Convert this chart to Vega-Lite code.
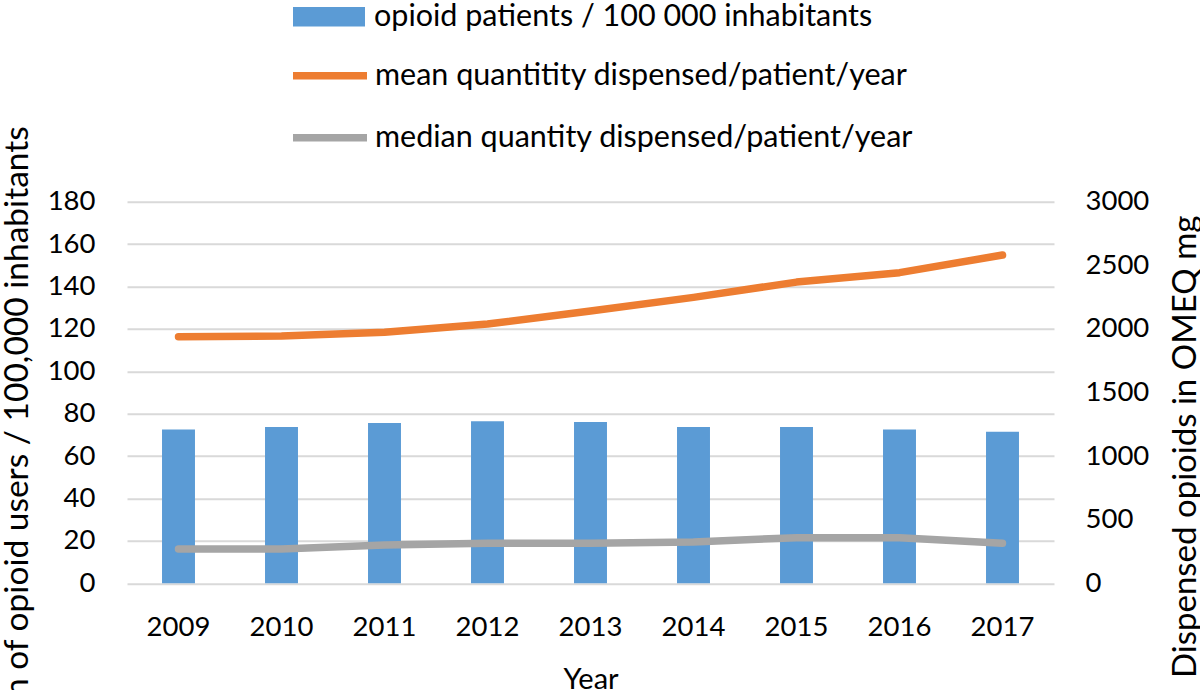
{
  "$schema": "https://vega.github.io/schema/vega-lite/v6.json",
  "width": 927,
  "height": 381.6,
  "autosize": {"type": "none"},
  "padding": {"left": 127, "top": 201.7, "right": 146, "bottom": 106.7},
  "background": "white",
  "config": {
    "view": {"stroke": null},
    "font": "Lato",
    "axis": {
      "labelFont": "Lato",
      "titleFont": "Lato",
      "labelColor": "#000000",
      "titleColor": "#000000",
      "titleFontWeight": "normal",
      "domain": false,
      "ticks": false,
      "tickSize": 0
    },
    "legend": {
      "labelFont": "Lato",
      "labelColor": "#000000",
      "labelFontSize": 30.5,
      "labelLimit": 0,
      "padding": 0
    }
  },
  "datasets": {
    "bars": [
      {"year": "2009", "patients": 72.6},
      {"year": "2010", "patients": 73.7},
      {"year": "2011", "patients": 75.6},
      {"year": "2012", "patients": 76.4},
      {"year": "2013", "patients": 76.1},
      {"year": "2014", "patients": 73.7},
      {"year": "2015", "patients": 73.7},
      {"year": "2016", "patients": 72.6},
      {"year": "2017", "patients": 71.5}
    ],
    "lines": [
      {"year": "2009", "series": "mean quantitity dispensed/patient/year", "qty": 1939},
      {"year": "2010", "series": "mean quantitity dispensed/patient/year", "qty": 1944},
      {"year": "2011", "series": "mean quantitity dispensed/patient/year", "qty": 1973},
      {"year": "2012", "series": "mean quantitity dispensed/patient/year", "qty": 2038},
      {"year": "2013", "series": "mean quantitity dispensed/patient/year", "qty": 2140},
      {"year": "2014", "series": "mean quantitity dispensed/patient/year", "qty": 2248},
      {"year": "2015", "series": "mean quantitity dispensed/patient/year", "qty": 2368},
      {"year": "2016", "series": "mean quantitity dispensed/patient/year", "qty": 2442},
      {"year": "2017", "series": "mean quantitity dispensed/patient/year", "qty": 2581},
      {"year": "2009", "series": "median quantity dispensed/patient/year", "qty": 270},
      {"year": "2010", "series": "median quantity dispensed/patient/year", "qty": 270},
      {"year": "2011", "series": "median quantity dispensed/patient/year", "qty": 301},
      {"year": "2012", "series": "median quantity dispensed/patient/year", "qty": 314},
      {"year": "2013", "series": "median quantity dispensed/patient/year", "qty": 314},
      {"year": "2014", "series": "median quantity dispensed/patient/year", "qty": 325},
      {"year": "2015", "series": "median quantity dispensed/patient/year", "qty": 359},
      {"year": "2016", "series": "median quantity dispensed/patient/year", "qty": 359},
      {"year": "2017", "series": "median quantity dispensed/patient/year", "qty": 314}
    ]
  },
  "layer": [
    {
      "data": {"name": "bars"},
      "mark": {"type": "bar"},
      "encoding": {
        "x": {
          "field": "year",
          "type": "ordinal",
          "scale": {"paddingInner": 0.68, "paddingOuter": 0.34},
          "axis": {
            "labelAngle": 0,
            "labelFontSize": 27.5,
            "labelPadding": 30,
            "grid": false,
            "title": "Year",
            "titleFontSize": 29,
            "titleBaseline": "top",
            "titleY": 82
          }
        },
        "y": {
          "field": "patients",
          "type": "quantitative",
          "scale": {"domain": [0, 180], "nice": false},
          "axis": {
            "values": [0, 20, 40, 60, 80, 100, 120, 140, 160, 180],
            "format": "d",
            "grid": true,
            "gridColor": "#D9D9D9",
            "gridWidth": 2,
            "labelFontSize": 27.5,
            "labelPadding": 32,
            "title": "Proportion of opioid users / 100,000 inhabitants",
            "titleFontSize": 33.5,
            "titleAngle": -90,
            "titleAlign": "right",
            "titleBaseline": "alphabetic",
            "titleX": -100,
            "titleY": -76
          }
        },
        "color": {
          "datum": "opioid patients / 100 000 inhabitants",
          "type": "nominal",
          "scale": {"range": ["#5B9BD5"]},
          "legend": {
            "title": null,
            "orient": "none",
            "legendX": 166,
            "legendY": -221,
            "symbolType": "M-1,-0.27H1V0.27H-1Z",
            "symbolSize": 5184,
            "symbolStrokeWidth": 0,
            "labelOffset": 9
          }
        }
      }
    },
    {
      "data": {"name": "lines"},
      "mark": {"type": "line", "strokeWidth": 7.5, "strokeCap": "round", "strokeJoin": "round"},
      "encoding": {
        "x": {"field": "year", "type": "ordinal"},
        "y": {
          "field": "qty",
          "type": "quantitative",
          "scale": {"domain": [0, 3000], "nice": false},
          "axis": {
            "orient": "right",
            "values": [0, 500, 1000, 1500, 2000, 2500, 3000],
            "format": "d",
            "grid": false,
            "labelFontSize": 27.5,
            "labelPadding": 31,
            "title": "Dispensed opioids in OMEQ mg",
            "titleFontSize": 33,
            "titleAngle": -90,
            "titleAlign": "right",
            "titleBaseline": "alphabetic",
            "titleX": 141,
            "titleY": 13.3
          }
        },
        "stroke": {
          "field": "series",
          "type": "nominal",
          "scale": {
            "domain": ["mean quantitity dispensed/patient/year", "median quantity dispensed/patient/year"],
            "range": ["#ED7D31", "#A5A5A5"]
          },
          "legend": {
            "title": null,
            "orient": "none",
            "legendX": 162,
            "legendY": -167,
            "symbolType": "stroke",
            "symbolSize": 5476,
            "symbolStrokeWidth": 7.5,
            "labelOffset": 4,
            "rowPadding": 5
          }
        }
      }
    }
  ],
  "resolve": {"scale": {"y": "independent"}}
}
